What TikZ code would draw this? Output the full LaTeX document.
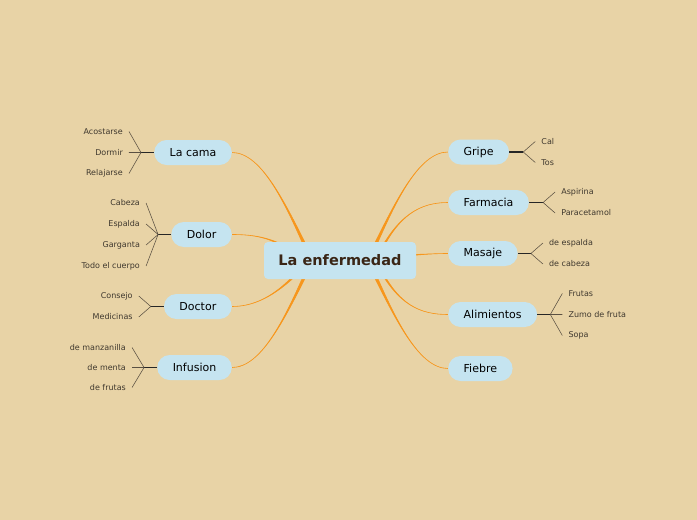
\documentclass[tikz,border=0pt]{standalone}
\usepackage{fontspec}
\setmainfont{DejaVu Sans}
\usetikzlibrary{calc}
\definecolor{paper}{HTML}{E8D3A6}
\definecolor{bubble}{HTML}{C5E4F0}
\definecolor{limbcol}{HTML}{F7961C}
\definecolor{rootink}{HTML}{3A2616}
\definecolor{leafink}{HTML}{3F382E}
\definecolor{twigcol}{HTML}{5A5042}
\pgfdeclarelayer{bg}
\pgfsetlayers{bg,main}
\tikzset{
  root/.style={rectangle,fill=bubble,rounded corners=4pt,minimum width=152pt,minimum height=37pt,
    text=rootink,font=\bfseries\fontsize{14.5}{17}\selectfont},
  topic/.style={rectangle,fill=bubble,rounded corners=12.5pt,minimum height=25pt,inner xsep=15.5pt,
    font=\fontsize{11}{13}\selectfont},
  leaf/.style={inner xsep=6pt,inner ysep=1pt,text=leafink,font=\fontsize{8}{9}\selectfont},
  stub/.style={draw=black!85,line width=1.4pt},
  twig/.style={draw=twigcol,line width=0.55pt},
  limb/.style={fill=limbcol,draw=limbcol,line width=0.6pt},
}
% tapered orange branch: start, control, control, end, half width at end
\newcommand\limb[5]{%
  \filldraw[limb] (#1) .. controls (#2) and (#3) .. ($(#4)+(#5)$) -- ($(#4)-(#5)$) .. controls (#3) and (#2) .. (#1) -- cycle;}

\begin{document}
\begin{tikzpicture}[x=1pt,y=-1pt]
\node[root] (root) at (340,260.5) {La enfermedad};

% left side
\node[topic,anchor=east] (cama) at (232,152.5) {La cama};
\node[topic,anchor=east] (dolor) at (232,234.5) {Dolor};
\node[topic,anchor=east] (doctor) at (232,306.5) {Doctor};
\node[topic,anchor=east] (infusion) at (232,367.5) {Infusion};
% right side
\node[topic,anchor=west] (gripe) at (448,152) {Gripe};
\node[topic,anchor=west] (farmacia) at (448,202.5) {Farmacia};
\node[topic,anchor=west] (masaje) at (448,253.5) {Masaje};
\node[topic,anchor=west] (alimientos) at (448,314.5) {Alimientos};
\node[topic,anchor=west] (fiebre) at (448,368.5) {Fiebre};

\begin{pgfonlayer}{bg}
\fill[paper] (0,0) rectangle (697,520);
\limb{cama.east}{262,152.5}{286,205}{309,254}{1.8,0}
\limb{infusion.east}{262,367.5}{286,316}{309,267}{1.8,0}
\limb{gripe.west}{418,152}{394,205}{371,254}{1.8,0}
\limb{fiebre.west}{418,368.5}{394,316}{371,267}{1.8,0}
\limb{dolor.east}{255,234.5}{272,238}{290,250}{0,1.2}
\limb{doctor.east}{258,306.5}{280,292}{302,268}{0.9,0.9}
\limb{farmacia.west}{420,202.5}{398,215}{378,256}{1.2,0}
\limb{alimientos.west}{420,314.5}{398,305}{378,265}{1.2,0}
\limb{masaje.west}{435,253.5}{420,254.5}{405,255.5}{0,0.8}
\end{pgfonlayer}

% sub-branches, left
\coordinate (jcama) at ($(cama.west)+(-13,0)$);
\draw[stub] (cama.west) -- (jcama);
\node[leaf,anchor=east] (acostarse) at ($(jcama)+(-12,-21)$) {Acostarse};
\node[leaf,anchor=east] (dormir) at ($(jcama)+(-12,0)$) {Dormir};
\node[leaf,anchor=east] (relajarse) at ($(jcama)+(-12,21)$) {Relajarse};
\draw[twig] (acostarse.east) -- (jcama) -- (relajarse.east) (dormir.east) -- (jcama);

\coordinate (jdolor) at ($(dolor.west)+(-13,0)$);
\draw[stub] (dolor.west) -- (jdolor);
\node[leaf,anchor=east] (cabeza) at ($(jdolor)+(-12,-31.5)$) {Cabeza};
\node[leaf,anchor=east] (espalda) at ($(jdolor)+(-12,-10.5)$) {Espalda};
\node[leaf,anchor=east] (garganta) at ($(jdolor)+(-12,10.5)$) {Garganta};
\node[leaf,anchor=east] (cuerpo) at ($(jdolor)+(-12,31.5)$) {Todo el cuerpo};
\draw[twig] (cabeza.east) -- (jdolor) -- (cuerpo.east) (espalda.east) -- (jdolor) -- (garganta.east);

\coordinate (jdoctor) at ($(doctor.west)+(-13,0)$);
\draw[stub] (doctor.west) -- (jdoctor);
\node[leaf,anchor=east] (consejo) at ($(jdoctor)+(-12,-10.5)$) {Consejo};
\node[leaf,anchor=east] (medicinas) at ($(jdoctor)+(-12,10.5)$) {Medicinas};
\draw[twig] (consejo.east) -- (jdoctor) -- (medicinas.east);

\coordinate (jinfusion) at ($(infusion.west)+(-13,0)$);
\draw[stub] (infusion.west) -- (jinfusion);
\node[leaf,anchor=east] (manzanilla) at ($(jinfusion)+(-12,-20)$) {de manzanilla};
\node[leaf,anchor=east] (menta) at ($(jinfusion)+(-12,0)$) {de menta};
\node[leaf,anchor=east] (frutas) at ($(jinfusion)+(-12,20)$) {de frutas};
\draw[twig] (manzanilla.east) -- (jinfusion) -- (frutas.east) (menta.east) -- (jinfusion);

% sub-branches, right
\coordinate (jgripe) at ($(gripe.east)+(14,0)$);
\draw[stub] (gripe.east) -- (jgripe);
\node[leaf,anchor=west] (cal) at ($(jgripe)+(12,-10.5)$) {Cal};
\node[leaf,anchor=west] (tos) at ($(jgripe)+(12,10.5)$) {Tos};
\draw[twig] (cal.west) -- (jgripe) -- (tos.west);

\coordinate (jfarmacia) at ($(farmacia.east)+(14,0)$);
\draw[stub] (farmacia.east) -- (jfarmacia);
\node[leaf,anchor=west] (aspirina) at ($(jfarmacia)+(12,-10.5)$) {Aspirina};
\node[leaf,anchor=west] (paracetamol) at ($(jfarmacia)+(12,10.5)$) {Paracetamol};
\draw[twig] (aspirina.west) -- (jfarmacia) -- (paracetamol.west);

\coordinate (jmasaje) at ($(masaje.east)+(13,0)$);
\draw[stub] (masaje.east) -- (jmasaje);
\node[leaf,anchor=west] (despalda) at ($(jmasaje)+(12,-10.5)$) {de espalda};
\node[leaf,anchor=west] (dcabeza) at ($(jmasaje)+(12,10.5)$) {de cabeza};
\draw[twig] (despalda.west) -- (jmasaje) -- (dcabeza.west);

\coordinate (jalimientos) at ($(alimientos.east)+(13,0)$);
\draw[stub] (alimientos.east) -- (jalimientos);
\node[leaf,anchor=west] (afrutas) at ($(jalimientos)+(12,-21)$) {Frutas};
\node[leaf,anchor=west] (zumo) at ($(jalimientos)+(12,0)$) {Zumo de fruta};
\node[leaf,anchor=west] (sopa) at ($(jalimientos)+(12,21)$) {Sopa};
\draw[twig] (afrutas.west) -- (jalimientos) -- (sopa.west) (zumo.west) -- (jalimientos);
\end{tikzpicture}
\end{document}
